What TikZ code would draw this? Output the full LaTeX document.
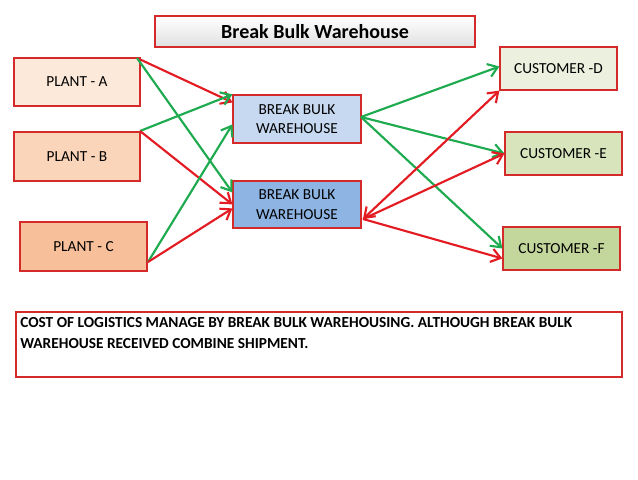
\documentclass[tikz,border=0pt]{standalone}
\usepackage{fontspec}
\setmainfont{Carlito}
\usetikzlibrary{arrows.meta}
\definecolor{bred}{HTML}{D42A2A}
\definecolor{rl}{HTML}{E31B23}
\definecolor{gl}{HTML}{1EAA4E}
\begin{document}
\begin{tikzpicture}[x=0.75pt,y=-0.75pt,
 box/.style={draw=bred,line width=0.9pt,inner sep=0pt,font=\fontsize{11.5}{14.5}\selectfont,align=center},
 ar/.style={line width=1.6pt,-{Straight Barb[length=7pt,width=10pt]}},
 r/.style={ar,draw=rl}, g/.style={ar,draw=gl}]
\fill[white] (0,0) rectangle (638,479);
\node[box,top color=white,bottom color=black!12,minimum width=320*0.75pt,minimum height=31*0.75pt,font=\bfseries\fontsize{15}{18}\selectfont] (t) at (315,31.5) {Break Bulk Warehouse};
\node[box,fill={rgb,255:red,253;green,233;blue,217},minimum width=126*0.75pt,minimum height=48*0.75pt] (a) at (77,82) {PLANT - A};
\node[box,fill={rgb,255:red,250;green,213;blue,185},minimum width=126*0.75pt,minimum height=49*0.75pt] (b) at (77,156.5) {PLANT - B};
\node[box,fill={rgb,255:red,248;green,192;blue,154},minimum width=127*0.75pt,minimum height=49*0.75pt] (c) at (83.5,246.5) {PLANT - C};
\node[box,fill={rgb,255:red,198;green,217;blue,240},minimum width=128*0.75pt,minimum height=48*0.75pt] (w1) at (297,119) {BREAK BULK\\WAREHOUSE};
\node[box,fill={rgb,255:red,141;green,180;blue,226},minimum width=128*0.75pt,minimum height=47*0.75pt] (w2) at (297,204.5) {BREAK BULK\\WAREHOUSE};
\node[box,fill={rgb,255:red,235;green,241;blue,222},minimum width=117*0.75pt,minimum height=43*0.75pt] (d) at (558.5,68.5) {CUSTOMER -D};
\node[box,fill={rgb,255:red,215;green,228;blue,188},minimum width=117*0.75pt,minimum height=43*0.75pt] (e) at (563.5,153.5) {CUSTOMER -E};
\node[box,fill={rgb,255:red,195;green,214;blue,155},minimum width=117*0.75pt,minimum height=43*0.75pt] (f) at (561.5,248.5) {CUSTOMER -F};
\node[box,fill=white,minimum width=606*0.75pt,minimum height=65*0.75pt] (txt) at (319,344.5) {};
\node[anchor=north west,align=left,inner sep=0pt,font=\bfseries\fontsize{11.5}{16}\selectfont] (tt) at (20,317) {COST OF LOGISTICS MANAGE BY BREAK BULK WAREHOUSING. ALTHOUGH BREAK BULK\\WAREHOUSE RECEIVED COMBINE SHIPMENT.};
\coordinate (ao) at (137,58);
\coordinate (bo) at (140,131);
\coordinate (co) at (148,262);
\draw[r] (ao) -- ([yshift=-0.75*8pt]w1.north west);
\draw[g] (ao) -- ([yshift=-0.75*12pt]w2.north west);
\draw[g] (bo) -- (w1.north west);
\draw[r] (bo) -- ([yshift=-0.75*24pt]w2.north west);
\draw[g] (co) -- ([yshift=-0.75*30pt]w1.north west);
\draw[r] (co) -- ([yshift=-0.75*28pt]w2.north west);
\coordinate (w1o) at (361,117);
\coordinate (w2o) at (363,219);
\draw[g] (w1o) -- ([yshift=0.75*2pt]d.west);
\draw[g] (w1o) -- (e.west);
\draw[g] (w1o) -- (f.west);
\draw[r,{Straight Barb[length=7pt,width=10pt]}-{Straight Barb[length=7pt,width=10pt]}] (w2o) -- (d.south west);
\draw[r] (w2o) -- (e.west);
\draw[r] (w2o) -- ([yshift=-0.75*10pt]f.west);
\end{tikzpicture}
\end{document}
